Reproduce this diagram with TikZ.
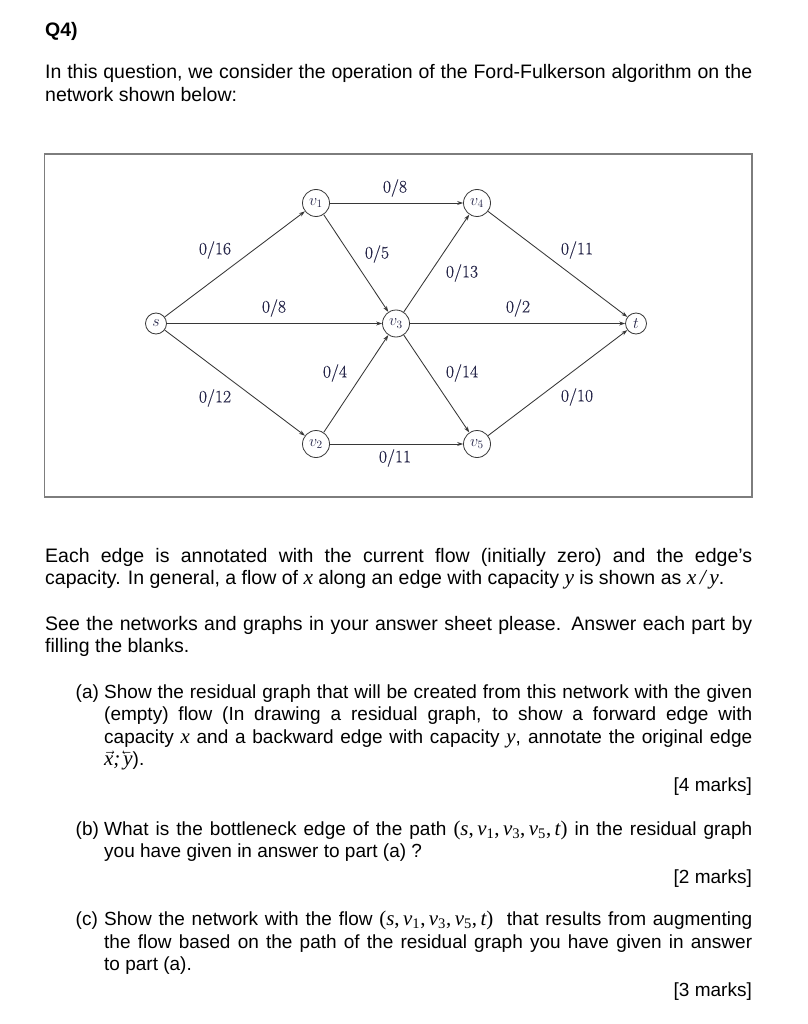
\RequirePackage{fix-cm}
\documentclass[tikz,border=0pt]{standalone}
\usepackage{amsmath}
\usepackage{graphicx}
\usepackage{fontspec}
\setmainfont{Liberation Sans}
\newfontfamily\lmfont[FakeBold=0.6]{Latin Modern Roman}
\newfontfamily\cmath[Scale=1.1]{Liberation Serif}
\newcommand{\mi}[1]{{\cmath\itshape #1}}
\newcommand{\pathtext}{{\cmath(\mi{s},\,\mi{v}\textsubscript{1},\,\mi{v}\textsubscript{3},\,\mi{v}\textsubscript{5},\,\mi{t})}}
\usetikzlibrary{arrows.meta}
\definecolor{labcol}{RGB}{40,40,75}
\definecolor{edgecol}{RGB}{55,55,55}
\definecolor{boxcol}{RGB}{125,125,125}
\tikzset{
 vert/.style={circle,draw=edgecol,line width=0.8pt,inner sep=0pt,minimum size=27pt,text=labcol,font=\fontsize{16}{18}\selectfont},
 term/.style={vert,minimum size=21pt},
 edge/.style={draw=edgecol,line width=0.85pt,-{Stealth[length=6pt,width=4pt]}},
 elab/.style={text=labcol,font=\lmfont\fontsize{17.5}{20}\selectfont,inner sep=0pt},
 bodytext/.style={anchor=base west,inner sep=0pt,font=\fontsize{19.5}{22.5}\selectfont},
 itemtext/.style={anchor=base west,inner sep=0pt,font=\fontsize{19}{22.5}\selectfont},
 marks/.style={anchor=base east,inner sep=0pt,font=\fontsize{19}{22.5}\selectfont},
}
\begin{document}
\begin{tikzpicture}[x=1pt,y=-1pt]
\useasboundingbox[fill=white] (0,0) rectangle (807,1024);

% heading and intro
\node[bodytext,font=\fontsize{19.5}{22.5}\selectfont\bfseries] (q) at (45,36.7) {Q4)};
\node[bodytext] (i1) at (45,79) {\makebox[707pt][s]{In this question, we consider the operation of the Ford-Fulkerson algorithm on the}};
\node[bodytext] (i2) at (45,101.5) {network shown below:};

% figure frame
\draw[boxcol,line width=1.5pt] (44.7,154) rectangle (752,497);

% graph nodes
\node[term] (s) at (156,323.5) {$s$};
\node[vert] (v1) at (316,203) {$v_1$};
\node[vert] (v4) at (477,203) {$v_4$};
\node[vert] (v3) at (396,323.5) {$v_3$};
\node[term] (t) at (636,323.5) {$t$};
\node[vert] (v2) at (316,444) {$v_2$};
\node[vert] (v5) at (477,444) {$v_5$};

% edges
\draw[edge] (s) -- (v1);
\draw[edge] (s) -- (v3);
\draw[edge] (s) -- (v2);
\draw[edge] (v1) -- (v4);
\draw[edge] (v1) -- (v3);
\draw[edge] (v2) -- (v3);
\draw[edge] (v2) -- (v5);
\draw[edge] (v3) -- (v4);
\draw[edge] (v3) -- (t);
\draw[edge] (v3) -- (v5);
\draw[edge] (v4) -- (t);
\draw[edge] (v5) -- (t);

% edge labels
\node[elab] (l14) at (395,188) {0/8};
\node[elab] (ls1) at (215,250) {0/16};
\node[elab] (l13) at (377,254) {0/5};
\node[elab] (l34) at (462,273) {0/13};
\node[elab] (l4t) at (577,250) {0/11};
\node[elab] (ls3) at (274,308) {0/8};
\node[elab] (l3t) at (518,308) {0/2};
\node[elab] (l23) at (335,373) {0/4};
\node[elab] (l35) at (462,373) {0/14};
\node[elab] (ls2) at (215,398) {0/12};
\node[elab] (l5t) at (577,397) {0/10};
\node[elab] (l25) at (395,458) {0/11};

% paragraphs below the figure
\node[bodytext] (p1) at (45,562) {\makebox[707pt][s]{Each edge is annotated with the current flow (initially zero) and the edge’s}};
\node[bodytext] (p2) at (45,584.5) {capacity. In general, a flow of \mi{x} along an edge with capacity \mi{y} is shown as \mi{x\,/\,y}.};
\node[bodytext] (p3) at (45,630) {\makebox[707pt][s]{See the networks and graphs in your answer sheet please. Answer each part by}};
\node[bodytext] (p4) at (45,652.5) {filling the blanks.};

% part (a)
\node[itemtext] (a0) at (75.5,698) {(a)};
\node[itemtext] (a1) at (104,698) {\makebox[648pt][s]{Show the residual graph that will be created from this network with the given}};
\node[itemtext] (a2) at (104,720.5) {\makebox[648pt][s]{(empty) flow (In drawing a residual graph, to show a forward edge with}};
\node[itemtext] (a3) at (104,743) {\makebox[648pt][s]{capacity \mi{x} and a backward edge with capacity \mi{y}, annotate the original edge}};
\node[itemtext] (a4) at (104,765.5) {$\vec{\hbox{\mi{x}}}$\mi{;}\kern3pt\reflectbox{$\vec{\hbox{\reflectbox{\mi{y}}}}$}).};
\node[marks] (am) at (752,791.5) {[4 marks]};

% part (b)
\node[itemtext] (b0) at (75.5,835) {(b)};
\node[itemtext] (b1) at (104,835) {\makebox[648pt][s]{What is the bottleneck edge of the path \pathtext{} in the residual graph}};
\node[itemtext] (b2) at (104,857.5) {you have given in answer to part (a) ?};
\node[marks] (bm) at (752,883.5) {[2 marks]};

% part (c)
\node[itemtext] (c0) at (75.5,925.5) {(c)};
\node[itemtext] (c1) at (104,925.5) {\makebox[648pt][s]{Show the network with the flow \pathtext{}\ \ that results from augmenting}};
\node[itemtext] (c2) at (104,948) {\makebox[648pt][s]{the flow based on the path of the residual graph you have given in answer}};
\node[itemtext] (c3) at (104,970.5) {to part (a).};
\node[marks] (cm) at (752,996.5) {[3 marks]};
\end{tikzpicture}
\end{document}
